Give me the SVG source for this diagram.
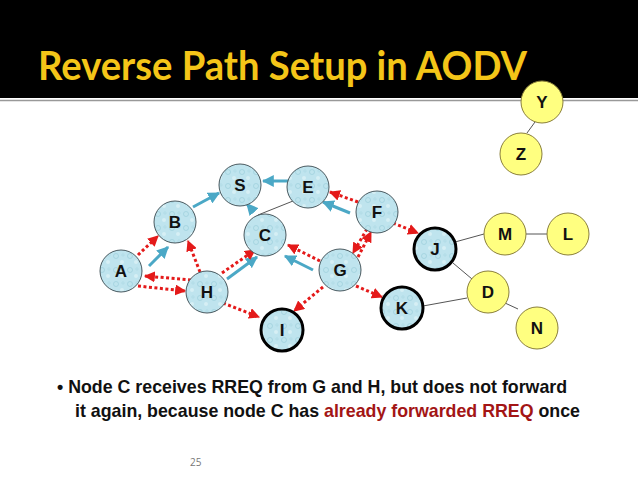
<svg xmlns="http://www.w3.org/2000/svg" width="638" height="478" viewBox="0 0 638 478">
<style>
.node{fill:url(#bub);stroke:#4a5a60;stroke-width:1}
.thick{stroke:#000;stroke-width:3}
.yel{fill:#FFFF80;stroke:#8a7f3a;stroke-width:1}
.lbl{font-family:"Liberation Sans",Arial,sans-serif;font-weight:bold;font-size:17px;fill:#111;text-anchor:middle}
.blue{stroke:#4BA8C6;stroke-width:3;fill:none;marker-end:url(#ab)}
.red{stroke:#E41A1A;stroke-width:3;stroke-dasharray:3 2.5;fill:none;marker-end:url(#ar)}
.thin{stroke:#555;stroke-width:1;fill:none}
.body{font-family:"Liberation Sans",Arial,sans-serif;font-weight:bold;font-size:17.8px;fill:#111}
</style>
<defs>
<pattern id="bub" patternUnits="userSpaceOnUse" width="14" height="14">
<rect width="14" height="14" fill="#BFE4EE"/>
<circle cx="4" cy="4" r="2.5" fill="none" stroke="#9FD0DD" stroke-width="0.8"/>
<circle cx="10" cy="10" r="2" fill="#D6EFF5"/>
<circle cx="11" cy="3" r="1.2" fill="none" stroke="#A8D6E2" stroke-width="0.6"/>
</pattern>
<marker id="ab" markerUnits="userSpaceOnUse" markerWidth="12" markerHeight="12" viewBox="0 0 10 10" refX="9" refY="5" orient="auto">
<path d="M0,0 L10,5 L0,10 z" fill="#4BA8C6"/>
</marker>
<marker id="ar" markerUnits="userSpaceOnUse" markerWidth="11" markerHeight="11" viewBox="0 0 10 10" refX="9" refY="5" orient="auto">
<path d="M0,0 L10,5 L0,10 z" fill="#E41A1A"/>
</marker>
</defs>
<rect width="638" height="478" fill="#fff"/>
<rect width="638" height="98" fill="#000"/>
<line x1="0" y1="100.5" x2="638" y2="100.5" stroke="#999" stroke-width="1.5"/>
<text x="38" y="80" font-family="Lato,'Open Sans',sans-serif" font-weight="bold" font-size="40" fill="#F4C518" textLength="489" lengthAdjust="spacingAndGlyphs">Reverse Path Setup in AODV</text>

<g id="connectors">
<line class="thin" x1="258" y1="215" x2="293" y2="201"/>
<line class="thin" x1="455" y1="242" x2="484" y2="234"/>
<line class="thin" x1="526" y1="234" x2="547" y2="234"/>
<line class="thin" x1="453" y1="263" x2="472" y2="279"/>
<line class="thin" x1="423" y1="306" x2="467" y2="298"/>
<line class="thin" x1="505" y1="303" x2="518" y2="309"/>
<line class="thin" x1="535" y1="122" x2="527" y2="133"/>

<line class="blue" x1="149" y1="266" x2="168" y2="247"/>
<line class="blue" x1="193" y1="207" x2="219" y2="193"/>
<line class="blue" x1="254" y1="212" x2="247" y2="204"/>
<line class="blue" x1="289" y1="181" x2="263" y2="181"/>
<line class="blue" x1="227" y1="279" x2="257" y2="257"/>
<line class="blue" x1="313" y1="270" x2="285" y2="256"/>
<line class="blue" x1="350" y1="213" x2="323" y2="202"/>

<line class="red" x1="138" y1="255" x2="158" y2="236"/>
<line class="red" x1="200" y1="272" x2="188" y2="241"/>
<line class="red" x1="191" y1="280" x2="145" y2="276"/>
<line class="red" x1="138" y1="286" x2="185" y2="291"/>
<line class="red" x1="222" y1="273" x2="255" y2="250"/>
<line class="red" x1="223" y1="303" x2="259" y2="317"/>
<line class="red" x1="320" y1="261" x2="288" y2="245"/>
<line class="red" x1="323" y1="287" x2="294" y2="311"/>
<line class="red" x1="356" y1="286" x2="382" y2="297"/>
<line class="red" x1="358" y1="202" x2="330" y2="192"/>
<line class="red" x1="367" y1="229" x2="353" y2="253"/>
<line class="red" x1="358" y1="257" x2="371" y2="232"/>
<line class="red" x1="393" y1="223" x2="418" y2="233"/>
</g>

<g id="node-S"><circle class="node" cx="240" cy="185" r="21"/><text class="lbl" x="240" y="191">S</text></g>
<g id="node-E"><circle class="node" cx="308" cy="187" r="21"/><text class="lbl" x="308" y="193">E</text></g>
<g id="node-B"><circle class="node" cx="175" cy="222" r="21"/><text class="lbl" x="175" y="228">B</text></g>
<g id="node-C"><circle class="node" cx="265" cy="235" r="21"/><text class="lbl" x="265" y="241">C</text></g>
<g id="node-F"><circle class="node" cx="377" cy="212" r="21"/><text class="lbl" x="377" y="218">F</text></g>
<g id="node-A"><circle class="node" cx="121" cy="271" r="21"/><text class="lbl" x="121" y="277">A</text></g>
<g id="node-H"><circle class="node" cx="207" cy="292" r="21"/><text class="lbl" x="207" y="298">H</text></g>
<g id="node-G"><circle class="node" cx="340" cy="270" r="21"/><text class="lbl" x="340" y="276">G</text></g>
<g id="node-J"><circle class="node thick" cx="435" cy="249" r="21"/><text class="lbl" x="435" y="255">J</text></g>
<g id="node-K"><circle class="node thick" cx="402" cy="308" r="21"/><text class="lbl" x="402" y="314">K</text></g>
<g id="node-I"><circle class="node thick" cx="282" cy="330" r="21"/><text class="lbl" x="282" y="336">I</text></g>
<g id="node-Y"><circle class="yel" cx="542" cy="102" r="21"/><text class="lbl" x="542" y="108">Y</text></g>
<g id="node-Z"><circle class="yel" cx="521" cy="154" r="21"/><text class="lbl" x="521" y="160">Z</text></g>
<g id="node-M"><circle class="yel" cx="505" cy="234" r="21"/><text class="lbl" x="505" y="240">M</text></g>
<g id="node-L"><circle class="yel" cx="568" cy="234" r="21"/><text class="lbl" x="568" y="240">L</text></g>
<g id="node-D"><circle class="yel" cx="488" cy="292" r="21"/><text class="lbl" x="488" y="298">D</text></g>
<g id="node-N"><circle class="yel" cx="537" cy="328" r="21"/><text class="lbl" x="537" y="334">N</text></g>

<text class="body" x="57" y="393">• Node C receives RREQ from G and H, but does not forward</text>
<text class="body" x="75" y="417">it again, because node C has <tspan fill="#A31515">already forwarded RREQ</tspan> once</text>
<text x="190" y="466" font-family="'Open Sans',sans-serif" font-size="10" fill="#777">25</text>
</svg>
